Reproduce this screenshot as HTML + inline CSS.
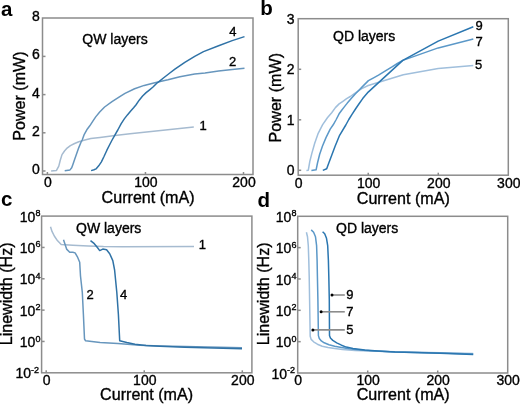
<!DOCTYPE html>
<html><head><meta charset="utf-8"><style>
html,body{margin:0;padding:0;background:#fff;}
body{width:520px;height:404px;overflow:hidden;}
svg{display:block;font-family:"Liberation Sans",Arial,sans-serif;fill:#000;}
text{fill:#000;stroke:#000;stroke-width:0.35px;}
</style></head><body>
<svg width="520" height="404" viewBox="0 0 520 404">
<rect width="520" height="404" fill="#fff"/>
<rect x="42.5" y="18" width="210.5" height="156.5" fill="none" stroke="#8c8c8c" stroke-width="1.5"/>
<line x1="42.5" y1="171.0" x2="45.5" y2="171.0" stroke="#8c8c8c" stroke-width="1.5"/>
<text x="39.8" y="173.9" font-size="14" text-anchor="end" font-weight="normal" >0</text>
<line x1="42.5" y1="132.8" x2="45.5" y2="132.8" stroke="#8c8c8c" stroke-width="1.5"/>
<text x="39.8" y="135.7" font-size="14" text-anchor="end" font-weight="normal" >2</text>
<line x1="42.5" y1="94.6" x2="45.5" y2="94.6" stroke="#8c8c8c" stroke-width="1.5"/>
<text x="39.8" y="97.5" font-size="14" text-anchor="end" font-weight="normal" >4</text>
<line x1="42.5" y1="56.39999999999999" x2="45.5" y2="56.39999999999999" stroke="#8c8c8c" stroke-width="1.5"/>
<text x="39.8" y="59.3" font-size="14" text-anchor="end" font-weight="normal" >6</text>
<text x="39.8" y="21.1" font-size="14" text-anchor="end" font-weight="normal" >8</text>
<line x1="47.4" y1="174.5" x2="47.4" y2="172.0" stroke="#8c8c8c" stroke-width="1.5"/>
<text x="47.9" y="186.6" font-size="14" text-anchor="middle" font-weight="normal" >0</text>
<line x1="145.45" y1="174.5" x2="145.45" y2="172.0" stroke="#8c8c8c" stroke-width="1.5"/>
<text x="145.9" y="186.6" font-size="14" text-anchor="middle" font-weight="normal" >100</text>
<line x1="243.5" y1="174.5" x2="243.5" y2="172.0" stroke="#8c8c8c" stroke-width="1.5"/>
<text x="244.0" y="186.6" font-size="14" text-anchor="middle" font-weight="normal" >200</text>
<text x="148.1" y="202.6" font-size="16.1" text-anchor="middle" font-weight="normal" >Current (mA)</text>
<text transform="translate(25,96.1) rotate(-90)" x="0" y="0" font-size="16.1" text-anchor="middle">Power (mW)</text>
<text x="82.3" y="43.5" font-size="14" text-anchor="start" font-weight="normal" >QW layers</text>
<text x="1.0" y="16" font-size="20.5" text-anchor="start" font-weight="bold"  style="stroke-width:0">a</text>
<polyline points="51.1,171.0 56.5,170.4 58.8,166.1 60.2,160.5 62.0,154.6 64.5,151.0 67.1,148.1 70.4,145.6 74.6,143.5 78.8,141.8 83.0,140.5 90.8,138.6 100.0,137.4 115.0,135.6 130.0,133.8 193.8,127.0" fill="none" stroke="#a6bbd0" stroke-width="1.5" stroke-linejoin="round" stroke-linecap="butt"/>
<polyline points="64.7,170.8 70.0,169.9 71.7,167.8 72.9,164.4 74.6,159.4 76.7,153.5 78.8,147.6 80.9,142.5 82.2,140.0 84.3,134.3 86.8,129.8 89.8,125.8 92.7,121.4 95.7,116.9 99.7,112.0 104.6,107.0 112.0,101.7 119.4,96.9 125.0,93.4 134.6,88.8 144.2,85.4 153.8,83.0 163.5,80.8 168.0,79.8 179.9,76.7 194.7,74.0 205.0,72.9 218.6,71.1 232.2,69.6 244.5,68.3" fill="none" stroke="#6796bd" stroke-width="1.5" stroke-linejoin="round" stroke-linecap="butt"/>
<polyline points="91.1,170.6 94.0,169.8 96.0,168.9 98.7,165.8 101.4,161.8 104.0,156.5 106.9,150.2 109.5,145.0 112.1,140.0 115.0,134.8 117.8,130.0 121.2,123.6 124.3,118.9 127.4,114.9 130.5,111.2 133.6,107.8 135.9,105.0 139.2,100.2 142.6,96.0 146.1,92.6 149.6,89.8 153.0,87.0 156.5,83.5 159.9,80.8 163.4,78.0 169.2,73.5 174.9,69.2 184.8,62.3 194.7,56.3 203.5,51.6 218.6,45.8 232.2,40.6 244.5,36.6" fill="none" stroke="#2f72a6" stroke-width="1.5" stroke-linejoin="round" stroke-linecap="butt"/>
<text x="229.2" y="36.3" font-size="13" text-anchor="start" font-weight="normal" >4</text>
<text x="229.0" y="66.0" font-size="13" text-anchor="start" font-weight="normal" >2</text>
<text x="199.5" y="130" font-size="13" text-anchor="start" font-weight="normal" >1</text>
<rect x="298.2" y="18.7" width="210.10000000000002" height="156.5" fill="none" stroke="#8c8c8c" stroke-width="1.5"/>
<line x1="298.2" y1="170.3" x2="301.2" y2="170.3" stroke="#8c8c8c" stroke-width="1.5"/>
<text x="294.6" y="175.3" font-size="14" text-anchor="end" font-weight="normal" >0</text>
<line x1="298.2" y1="119.80000000000001" x2="301.2" y2="119.80000000000001" stroke="#8c8c8c" stroke-width="1.5"/>
<text x="294.6" y="124.8" font-size="14" text-anchor="end" font-weight="normal" >1</text>
<line x1="298.2" y1="69.30000000000001" x2="301.2" y2="69.30000000000001" stroke="#8c8c8c" stroke-width="1.5"/>
<text x="294.6" y="74.3" font-size="14" text-anchor="end" font-weight="normal" >2</text>
<text x="294.6" y="23.8" font-size="14" text-anchor="end" font-weight="normal" >3</text>
<text x="298.7" y="187.5" font-size="14" text-anchor="middle" font-weight="normal" >0</text>
<line x1="368.23" y1="175.2" x2="368.23" y2="172.7" stroke="#8c8c8c" stroke-width="1.5"/>
<text x="368.7" y="187.5" font-size="14" text-anchor="middle" font-weight="normal" >100</text>
<line x1="438.26" y1="175.2" x2="438.26" y2="172.7" stroke="#8c8c8c" stroke-width="1.5"/>
<text x="438.8" y="187.5" font-size="14" text-anchor="middle" font-weight="normal" >200</text>
<text x="508.8" y="187.5" font-size="14" text-anchor="middle" font-weight="normal" >300</text>
<text x="403.3" y="203.5" font-size="16.1" text-anchor="middle" font-weight="normal" >Current (mA)</text>
<text transform="translate(281.3,97.7) rotate(-90)" x="0" y="0" font-size="16.1" text-anchor="middle">Power (mW)</text>
<text x="333" y="41.2" font-size="14" text-anchor="start" font-weight="normal" >QD layers</text>
<text x="260.2" y="15.3" font-size="20.5" text-anchor="start" font-weight="bold"  style="stroke-width:0">b</text>
<polyline points="306.4,170.4 308.3,170.2 309.8,161.5 311.9,153.1 314.7,143.2 318.2,133.3 322.5,124.9 327.4,117.8 331.7,112.8 335.4,107.6 339.1,103.9 342.9,101.3 346.6,98.7 350.3,96.5 353.7,94.1 357.6,91.3 361.8,88.6 368.2,85.5 403.3,74.7 438.2,68.4 473.3,65.6" fill="none" stroke="#a0bfdc" stroke-width="1.5" stroke-linejoin="round" stroke-linecap="butt"/>
<polyline points="311.4,170.4 316.1,169.8 317.5,163.0 319.6,154.5 322.5,146.0 326.0,137.6 330.2,129.1 333.2,124.8 336.2,119.5 339.1,113.8 341.5,110.5 344.3,106.9 347.3,103.1 351.2,98.6 355.0,94.2 358.9,90.2 362.7,86.4 368.4,80.6 373.6,77.8 378.5,75.2 385.0,71.2 392.4,66.7 397.4,63.5 402.8,60.4 438.2,47.9 473.3,39.1" fill="none" stroke="#5b98c8" stroke-width="1.5" stroke-linejoin="round" stroke-linecap="butt"/>
<polyline points="322.8,170.4 326.7,168.8 328.8,163.0 332.0,154.5 335.0,146.5 339.6,135.3 345.8,125.0 348.8,119.5 352.0,114.3 355.5,109.0 358.9,104.0 362.7,98.6 368.2,92.1 402.8,60.4 438.2,41.1 473.3,26.8" fill="none" stroke="#2a76b0" stroke-width="1.5" stroke-linejoin="round" stroke-linecap="butt"/>
<text x="475.5" y="30" font-size="13" text-anchor="start" font-weight="normal" >9</text>
<text x="475.5" y="45.8" font-size="13" text-anchor="start" font-weight="normal" >7</text>
<text x="475.0" y="68.5" font-size="13" text-anchor="start" font-weight="normal" >5</text>
<rect x="41.6" y="216.1" width="210.3" height="156.70000000000002" fill="none" stroke="#8c8c8c" stroke-width="1.5"/>
<text x="40.4" y="221.7" font-size="14" text-anchor="end">10<tspan font-size="9" dy="-5.6">8</tspan></text>
<line x1="41.6" y1="247.44" x2="44.6" y2="247.44" stroke="#8c8c8c" stroke-width="1.5"/>
<text x="40.4" y="253.0" font-size="14" text-anchor="end">10<tspan font-size="9" dy="-5.6">6</tspan></text>
<line x1="41.6" y1="278.78000000000003" x2="44.6" y2="278.78000000000003" stroke="#8c8c8c" stroke-width="1.5"/>
<text x="40.4" y="284.4" font-size="14" text-anchor="end">10<tspan font-size="9" dy="-5.6">4</tspan></text>
<line x1="41.6" y1="310.12" x2="44.6" y2="310.12" stroke="#8c8c8c" stroke-width="1.5"/>
<text x="40.4" y="315.7" font-size="14" text-anchor="end">10<tspan font-size="9" dy="-5.6">2</tspan></text>
<line x1="41.6" y1="341.46000000000004" x2="44.6" y2="341.46000000000004" stroke="#8c8c8c" stroke-width="1.5"/>
<text x="40.4" y="347.1" font-size="14" text-anchor="end">10<tspan font-size="9" dy="-5.6">0</tspan></text>
<text x="39.1" y="378.4" font-size="14" text-anchor="end">10<tspan font-size="9" dy="-5.6">-2</tspan></text>
<line x1="46.2" y1="372.8" x2="46.2" y2="370.3" stroke="#8c8c8c" stroke-width="1.5"/>
<text x="46.7" y="385.2" font-size="14" text-anchor="middle" font-weight="normal" >0</text>
<line x1="144.25" y1="372.8" x2="144.25" y2="370.3" stroke="#8c8c8c" stroke-width="1.5"/>
<text x="144.8" y="385.2" font-size="14" text-anchor="middle" font-weight="normal" >100</text>
<line x1="242.3" y1="372.8" x2="242.3" y2="370.3" stroke="#8c8c8c" stroke-width="1.5"/>
<text x="242.8" y="385.2" font-size="14" text-anchor="middle" font-weight="normal" >200</text>
<text x="146.6" y="400.2" font-size="16.1" text-anchor="middle" font-weight="normal" >Current (mA)</text>
<text transform="translate(12,293.9) rotate(-90)" x="0" y="0" font-size="16.1" text-anchor="middle">Linewidth (Hz)</text>
<text x="76" y="233.2" font-size="14" text-anchor="start" font-weight="normal" >QW layers</text>
<text x="0.9" y="205.8" font-size="20.5" text-anchor="start" font-weight="bold"  style="stroke-width:0">c</text>
<polyline points="50.5,226.8 52.0,231.4 54.3,236.0 57.4,240.6 61.2,244.5 72.8,245.2 88.2,246.0 103.5,246.6 122.0,246.7 194.0,246.6" fill="none" stroke="#a6bbd0" stroke-width="1.5" stroke-linejoin="round" stroke-linecap="butt"/>
<polyline points="63.5,239.8 65.1,244.5 66.6,249.1 69.7,252.2 72.8,252.2 75.1,252.9 77.4,256.8 79.7,262.2 80.5,276.0 82.3,292.3 83.4,314.5 84.5,339.0 85.6,340.8 100.1,342.4 117.9,343.5 140.0,345.2 160.0,345.9 185.0,346.6 242.0,347.7" fill="none" stroke="#6796bd" stroke-width="1.5" stroke-linejoin="round" stroke-linecap="butt"/>
<polyline points="90.5,240.6 94.3,243.7 97.4,247.5 99.7,250.6 102.8,249.1 106.6,249.8 109.7,253.7 112.8,260.6 114.6,270.0 116.8,292.3 118.4,314.5 119.7,340.8 126.8,342.6 135.0,344.2 146.0,345.5 160.0,346.3 185.0,347.3 242.0,348.8" fill="none" stroke="#2f72a6" stroke-width="1.5" stroke-linejoin="round" stroke-linecap="butt"/>
<text x="198.7" y="249.2" font-size="13" text-anchor="start" font-weight="normal" >1</text>
<text x="86.6" y="299" font-size="13" text-anchor="start" font-weight="normal" >2</text>
<text x="120.0" y="299" font-size="13" text-anchor="start" font-weight="normal" >4</text>
<rect x="297.7" y="216.3" width="210.0" height="156.7" fill="none" stroke="#8c8c8c" stroke-width="1.5"/>
<text x="296.4" y="221.9" font-size="14" text-anchor="end">10<tspan font-size="9" dy="-5.6">8</tspan></text>
<line x1="297.7" y1="247.64" x2="300.7" y2="247.64" stroke="#8c8c8c" stroke-width="1.5"/>
<text x="296.4" y="253.2" font-size="14" text-anchor="end">10<tspan font-size="9" dy="-5.6">6</tspan></text>
<line x1="297.7" y1="278.98" x2="300.7" y2="278.98" stroke="#8c8c8c" stroke-width="1.5"/>
<text x="296.4" y="284.6" font-size="14" text-anchor="end">10<tspan font-size="9" dy="-5.6">4</tspan></text>
<line x1="297.7" y1="310.32" x2="300.7" y2="310.32" stroke="#8c8c8c" stroke-width="1.5"/>
<text x="296.4" y="315.9" font-size="14" text-anchor="end">10<tspan font-size="9" dy="-5.6">2</tspan></text>
<line x1="297.7" y1="341.66" x2="300.7" y2="341.66" stroke="#8c8c8c" stroke-width="1.5"/>
<text x="296.4" y="347.3" font-size="14" text-anchor="end">10<tspan font-size="9" dy="-5.6">0</tspan></text>
<text x="295.09999999999997" y="378.6" font-size="14" text-anchor="end">10<tspan font-size="9" dy="-5.6">-2</tspan></text>
<text x="298.2" y="385.2" font-size="14" text-anchor="middle" font-weight="normal" >0</text>
<line x1="367.7" y1="373" x2="367.7" y2="370.5" stroke="#8c8c8c" stroke-width="1.5"/>
<text x="368.2" y="385.2" font-size="14" text-anchor="middle" font-weight="normal" >100</text>
<line x1="437.7" y1="373" x2="437.7" y2="370.5" stroke="#8c8c8c" stroke-width="1.5"/>
<text x="438.2" y="385.2" font-size="14" text-anchor="middle" font-weight="normal" >200</text>
<text x="508.2" y="385.2" font-size="14" text-anchor="middle" font-weight="normal" >300</text>
<text x="403.2" y="400.2" font-size="16.1" text-anchor="middle" font-weight="normal" >Current (mA)</text>
<text transform="translate(268.7,293.8) rotate(-90)" x="0" y="0" font-size="16.1" text-anchor="middle">Linewidth (Hz)</text>
<text x="336" y="233.2" font-size="14" text-anchor="start" font-weight="normal" >QD layers</text>
<text x="257.6" y="206.5" font-size="20.5" text-anchor="start" font-weight="bold"  style="stroke-width:0">d</text>
<polyline points="306.4,232.3 307.5,236.8 308.3,245.7 308.8,260.6 309.2,276.0 309.6,300.0 310.2,336.3 311.2,339.4 313.6,341.8 317.4,344.2 322.2,346.2 328.0,347.6 334.7,348.6 342.5,349.6 355.0,350.4 370.0,351.0 395.0,351.8 440.0,352.8 473.2,353.5" fill="none" stroke="#a0bfdc" stroke-width="1.5" stroke-linejoin="round" stroke-linecap="butt"/>
<polyline points="311.2,229.9 313.6,232.3 315.5,236.8 316.6,245.7 317.1,260.6 317.4,276.0 317.9,300.0 318.4,335.6 319.3,338.5 321.3,340.9 324.2,342.8 329.0,344.7 334.7,346.2 341.5,347.6 349.2,348.8 360.0,350.0 370.0,350.7 395.0,351.9 440.0,353.1 473.2,354.0" fill="none" stroke="#5b98c8" stroke-width="1.5" stroke-linejoin="round" stroke-linecap="butt"/>
<polyline points="322.6,231.8 324.7,233.8 326.5,238.3 327.7,245.7 328.4,260.6 328.8,276.0 329.3,300.0 329.5,335.6 330.4,338.0 332.8,340.4 336.7,342.8 341.5,345.2 346.3,347.1 353.0,348.6 364.8,349.9 378.0,350.9 395.0,352.0 440.0,353.3 473.2,354.4" fill="none" stroke="#2a76b0" stroke-width="1.5" stroke-linejoin="round" stroke-linecap="butt"/>
<line x1="332.0" y1="295.0" x2="344.8" y2="295.0" stroke="#8c8c8c" stroke-width="1.6"/>
<circle cx="332.0" cy="295.0" r="1.5" fill="#000"/>
<text x="346.2" y="299.2" font-size="13" text-anchor="start" font-weight="normal" >9</text>
<line x1="321.1" y1="311.8" x2="344.8" y2="311.8" stroke="#8c8c8c" stroke-width="1.6"/>
<circle cx="321.1" cy="311.8" r="1.5" fill="#000"/>
<text x="346.2" y="316.2" font-size="13" text-anchor="start" font-weight="normal" >7</text>
<line x1="312.9" y1="329.9" x2="344.8" y2="329.9" stroke="#8c8c8c" stroke-width="1.6"/>
<circle cx="312.9" cy="329.9" r="1.5" fill="#000"/>
<text x="346.2" y="333.8" font-size="13" text-anchor="start" font-weight="normal" >5</text>
</svg>
</body></html>
